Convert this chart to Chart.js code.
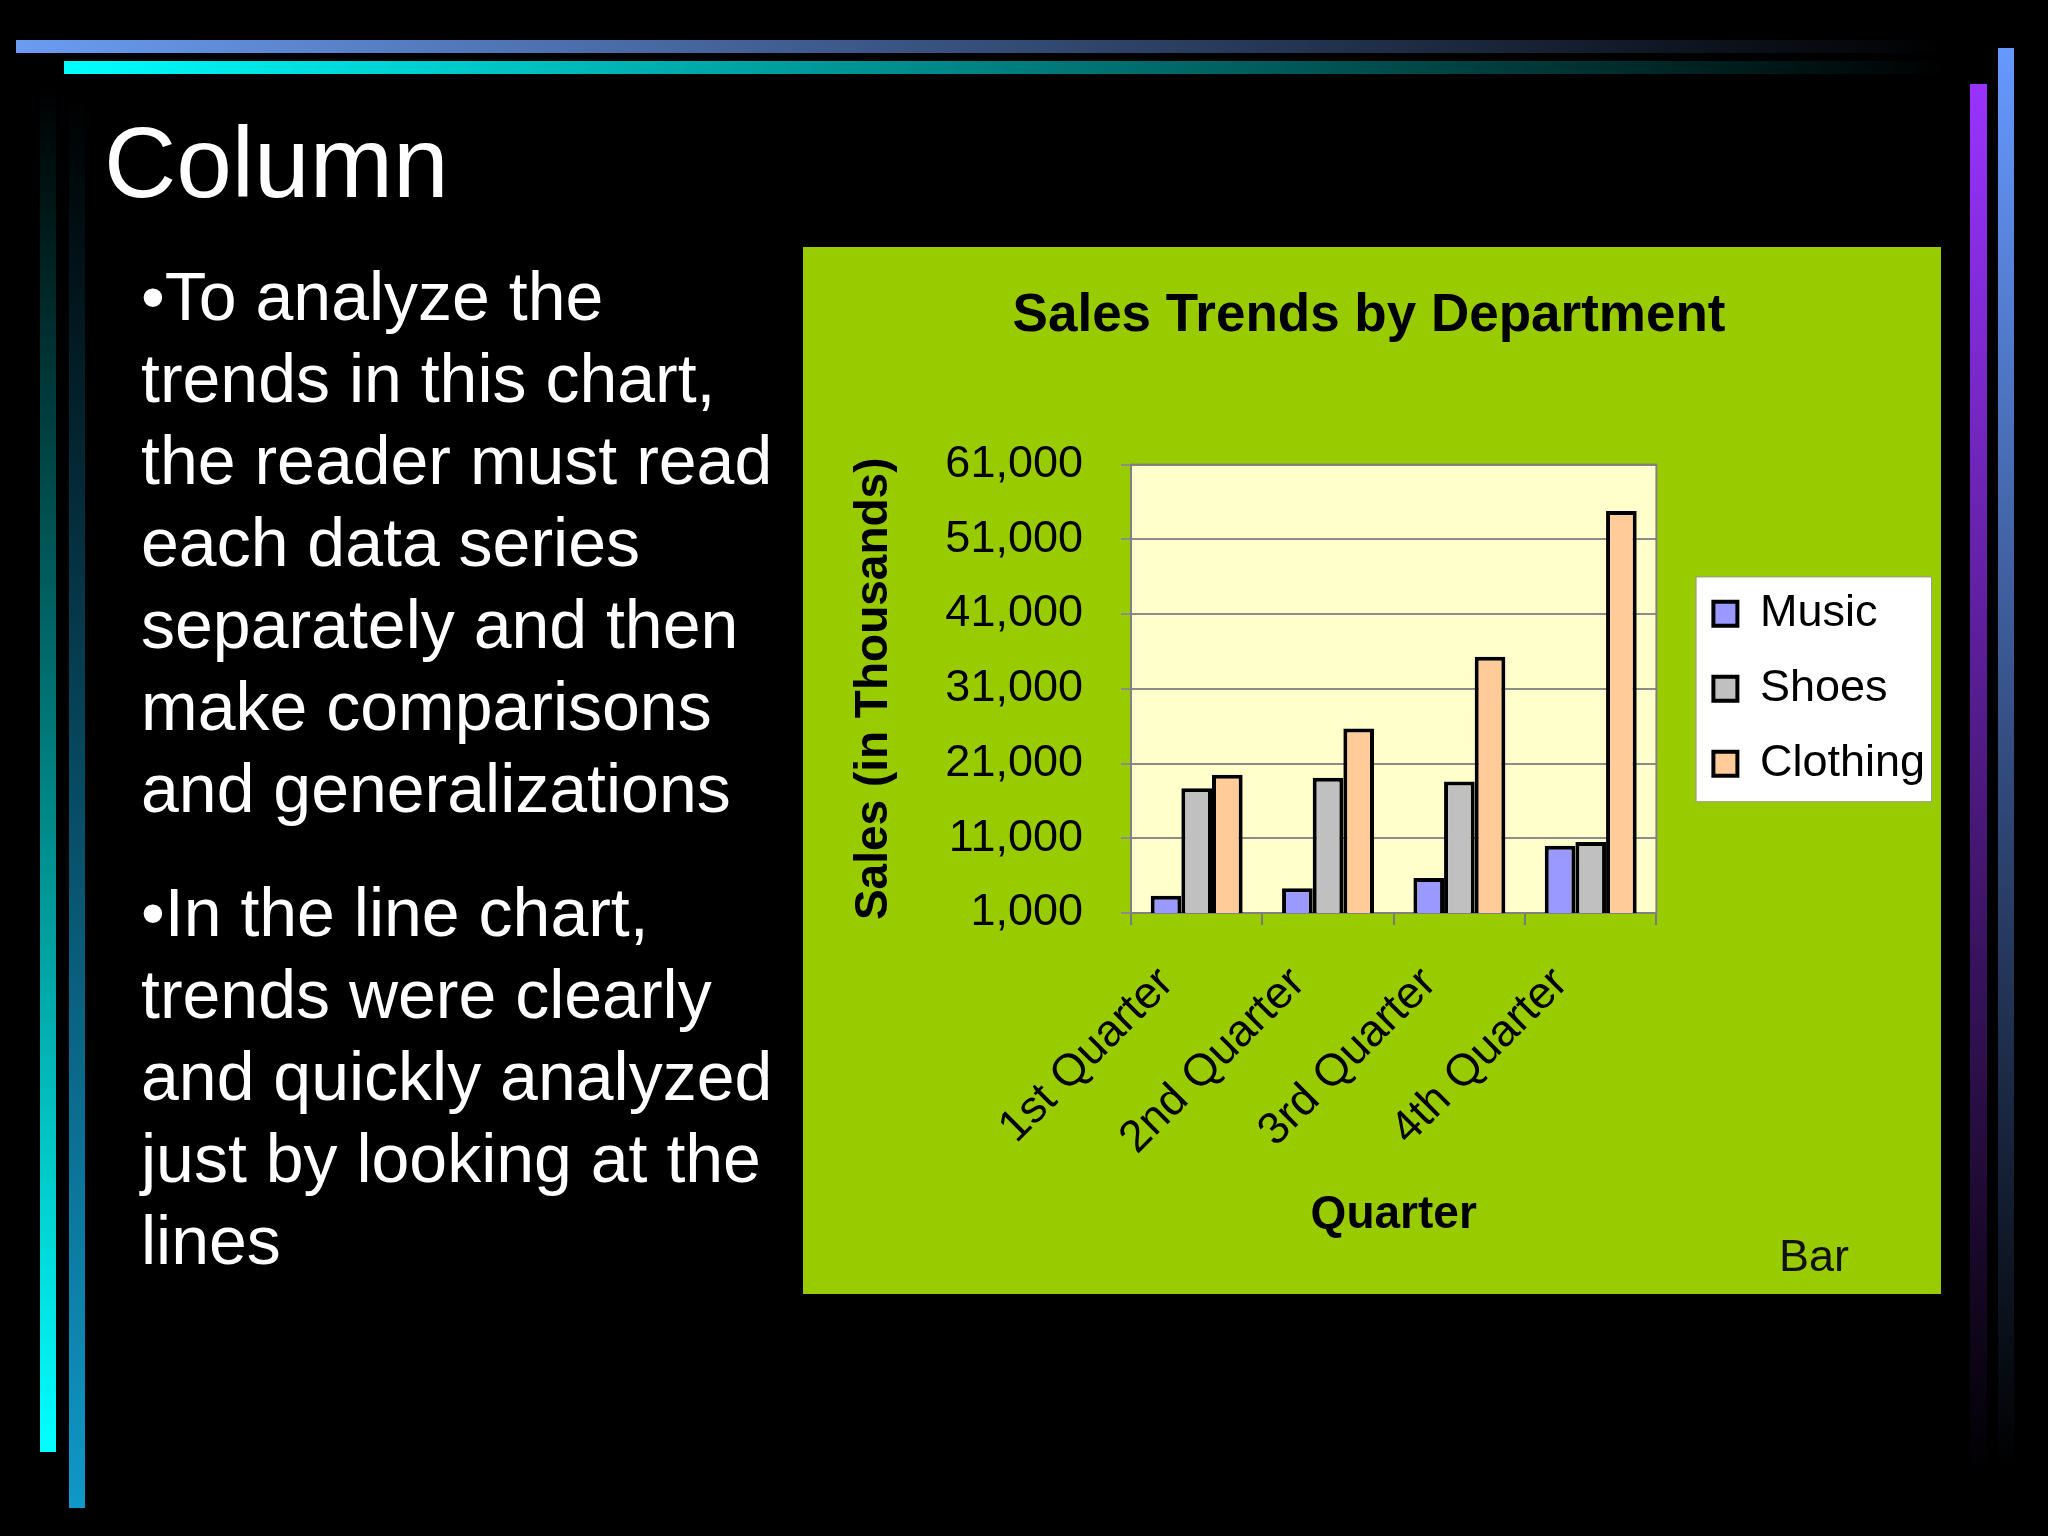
<!DOCTYPE html>
<html>
<head>
<meta charset="utf-8">
<script src="https://cdn.jsdelivr.net/npm/chart.js@4.4.1/dist/chart.umd.min.js"></script>
<style>
  html, body { margin: 0; padding: 0; background: #000; }
  body { width: 2048px; height: 1536px; position: relative; overflow: hidden; font-family: 'Liberation Sans', Arial, sans-serif; }
  .bar { position: absolute; }
  #hbar1 { left: 16px; top: 40px; width: 1930px; height: 13px; background: linear-gradient(to right, #6b9cf2, #000); }
  #hbar2 { left: 64px; top: 61px; width: 1880px; height: 13px; background: linear-gradient(to right, #00ffff, #000); }
  #vbar1 { left: 40px; top: 85px; width: 16px; height: 1367px; background: linear-gradient(to bottom, #000, #00ffff); }
  #vbar2 { left: 69px; top: 98px; width: 16px; height: 1410px; background: linear-gradient(to bottom, #000, #0f98c8); }
  #vbar3 { left: 1970px; top: 84px; width: 17px; height: 1390px; background: linear-gradient(to bottom, #9933ff, #000); }
  #vbar4 { left: 1998px; top: 48px; width: 16px; height: 1420px; background: linear-gradient(to bottom, #6699ff, #000); }
  #heading { position: absolute; left: 104px; top: 112px; color: #fff; font-size: 100px; line-height: 1; }
  .para { position: absolute; left: 141px; color: #fff; font-size: 68px; line-height: 82px; white-space: nowrap; }
  #p1 { top: 255px; }
  #p2 { top: 871px; }
  #panel { position: absolute; left: 803px; top: 247px; width: 1138px; height: 1047px; background: #99cc00; }
  #panel canvas { position: absolute; left: 0; top: 0; }
  #tag { position: absolute; left: 1779px; top: 1233px; font-size: 45px; line-height: 1; color: #111; }
</style>
</head>
<body>
<div class="bar" id="hbar1"></div>
<div class="bar" id="hbar2"></div>
<div class="bar" id="vbar1"></div>
<div class="bar" id="vbar2"></div>
<div class="bar" id="vbar3"></div>
<div class="bar" id="vbar4"></div>

<div id="heading">Column</div>
<div class="para" id="p1">•To analyze the<br>trends in this chart,<br>the reader must read<br>each data series<br>separately and then<br>make comparisons<br>and generalizations</div>
<div class="para" id="p2">•In the line chart,<br>trends were clearly<br>and quickly analyzed<br>just by looking at the<br>lines</div>

<div id="panel"><canvas id="salesChart" width="1138" height="1047"></canvas></div>
<div id="tag">Bar</div>

<script>
var quarters = ['1st Quarter', '2nd Quarter', '3rd Quarter', '4th Quarter'];
var music = [3300, 4300, 5700, 10000];
var shoes = [17700, 19100, 18600, 10500];
var clothing = [19500, 25700, 35300, 54800];
var yMin = 1000;
var yMax = 61000;
var yStep = 10000;

Chart.defaults.font.family = "'Liberation Sans', Arial, sans-serif";
Chart.defaults.color = '#000';

// plot area fill + frame, and white box behind the legend
var backdrop = {
  id: 'backdrop',
  beforeDraw: function (chart) {
    var ctx = chart.ctx;
    var a = chart.chartArea;
    ctx.save();
    ctx.fillStyle = '#ffffcc';
    ctx.fillRect(a.left, a.top, a.right - a.left, a.bottom - a.top);

    var boxes = chart.legend && chart.legend.legendHitBoxes;
    if (boxes && boxes.length) {
      var l = Infinity, r = -Infinity, t = Infinity, b = -Infinity;
      boxes.forEach(function (h) {
        l = Math.min(l, h.left); r = Math.max(r, h.left + h.width);
        t = Math.min(t, h.top); b = Math.max(b, h.top + h.height);
      });
      ctx.fillStyle = '#fff';
      ctx.strokeStyle = '#9a9a9a';
      ctx.lineWidth = 1;
      ctx.fillRect(l - 17, t - 14, r - l + 23, b - t + 29);
      ctx.strokeRect(l - 17.5, t - 14.5, r - l + 24, b - t + 30);
    }
    ctx.restore();
  },
  beforeDatasetsDraw: function (chart) {
    var ctx = chart.ctx;
    var a = chart.chartArea;
    ctx.save();
    ctx.strokeStyle = '#808080';
    ctx.lineWidth = 2;
    ctx.strokeRect(a.left, a.top, a.right - a.left, a.bottom - a.top);
    ctx.restore();
  }
};

function series(label, data, color) {
  return {
    label: label,
    data: data,
    backgroundColor: color,
    borderColor: '#000',
    borderWidth: 4,
    borderSkipped: false,
    barPercentage: 1.0,
    categoryPercentage: 0.7
  };
}

new Chart(document.getElementById('salesChart'), {
  type: 'bar',
  data: {
    labels: quarters,
    datasets: [
      series('Music', music, '#9999ff'),
      series('Shoes', shoes, '#c0c0c0'),
      series('Clothing', clothing, '#ffcc99')
    ]
  },
  plugins: [backdrop],
  options: {
    responsive: false,
    animation: false,
    layout: { padding: { left: 0, right: 6, top: 0, bottom: 0 } },
    plugins: {
      title: {
        display: true,
        text: 'Sales Trends by Department',
        color: '#000',
        font: { size: 53, weight: 'bold' },
        padding: { top: 38, bottom: 116 }
      },
      legend: {
        position: 'right',
        fullSize: false,
        maxWidth: 262,
        labels: {
          boxWidth: 24,
          boxHeight: 24,
          padding: 30,
          color: '#000',
          font: { size: 45 }
        }
      },
      tooltip: { enabled: false }
    },
    scales: {
      x: {
        offset: true,
        grid: { drawOnChartArea: false, drawTicks: true, tickLength: 12, color: '#7a7a7a', lineWidth: 2, offset: true },
        border: { color: '#808080', width: 2 },
        ticks: { color: '#000', font: { size: 45 }, minRotation: 45, maxRotation: 45, padding: 32, labelOffset: -30, autoSkip: false },
        title: {
          display: true,
          text: 'Quarter',
          color: '#000',
          font: { size: 46, weight: 'bold' },
          padding: { top: 22, bottom: 51 }
        },
        afterFit: function (scale) { scale.height = 381; }
      },
      y: {
        min: yMin,
        max: yMax,
        grid: { color: '#8c8c8c', lineWidth: 2, tickLength: 10 },
        border: { color: '#808080', width: 2 },
        ticks: {
          stepSize: yStep,
          color: '#000',
          font: { size: 45 },
          padding: 38,
          callback: function (v) { return v.toLocaleString('en-US'); }
        },
        title: {
          display: true,
          text: 'Sales (in Thousands)',
          color: '#000',
          font: { size: 46, weight: 'bold' },
          padding: { top: 44, bottom: 43 }
        },
        afterFit: function (scale) { scale.width = 328; }
      },
      gap: {
        type: 'linear',
        position: 'right',
        grid: { display: false },
        border: { display: false },
        ticks: { display: false },
        afterFit: function (scale) { scale.width = 27; }
      }
    }
  }
});
</script>
</body>
</html>
